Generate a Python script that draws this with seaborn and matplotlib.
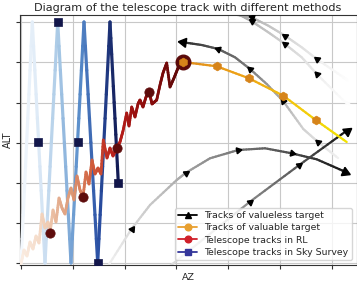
import numpy as np
import matplotlib
matplotlib.use("Agg")
import matplotlib.pyplot as plt
from matplotlib.collections import LineCollection
from matplotlib.colors import LinearSegmentedColormap
from matplotlib.lines import Line2D
import seaborn as sns

# --------------------------------------------
# DATA (AZ / ALT in plot units)
# --------------------------------------------

# telescope tracks in sky survey (zig-zag sweep)
sky_az = [0, 11.3, 24, 36.7, 50, 63, 76.7, 89, 97.3]
sky_alt = [0, 241, 0, 241, 0, 241, 0, 241, 80.3]
sky_mark_az = [17.3, 36.7, 57.3, 76.7, 97.3]
sky_mark_alt = [121, 241, 121, 0, 80.3]

# telescope tracks in RL
rl_az = [0, 3, 6, 9, 12, 15, 18, 21, 24, 27, 29, 32, 35, 38, 41, 44, 47, 50,
         53, 56, 59, 62, 65, 68, 71, 74, 77, 80, 82.3, 86, 89, 92, 95.7, 99,
         102, 105.7, 108, 110.7, 114, 117, 119, 122, 125, 128.3, 131, 135.7,
         139, 142, 145.7, 149, 153, 157, 162]
rl_alt = [-1, 13, 7, 21, 14, 27, 20, 49, 35, 41, 30, 53, 41, 65, 55, 49, 65, 75,
          63, 87, 73, 66, 91, 79, 103, 89, 95, 89, 123, 105, 115, 107, 115, 121,
          132, 150, 137, 156, 146, 159, 163, 156, 166, 170.7, 159, 163,
          178, 190, 200, 176, 185, 195, 201]
rl_mark_az = [29, 62, 95.7, 128.3]
rl_mark_alt = [30, 66, 115, 170.7]
target_az, target_alt = 162, 201

# tracks of valuable target
val_az = [162, 195.7, 228, 262.3, 294.7, 325.7]
val_alt = [201, 196.7, 184.7, 167.3, 143, 121]

# tracks of valueless targets (listed in time order)
track_a_az = [317, 297, 282.3, 262.3, 245.7, 229, 214, 197.3, 180.7, 162.3]
track_a_alt = [105, 121, 134, 161.7, 179, 194, 205.7, 214, 218, 220.7]
track_a_marks = [1, 3, 5, 7]

track_b1_az = [329, 322, 295.7, 280.7, 264, 247.3, 230.7, 210.7, 194]
track_b1_alt = [181, 186, 204, 215.7, 227.3, 237.3, 245.7, 249, 255]
track_b1_marks = [2, 4, 6]

track_b2_az = [331, 324, 295.7, 280.7, 264, 247.3, 230.7, 217, 201]
track_b2_alt = [157, 161, 189, 205.7, 219, 230.7, 241.7, 249, 256]
track_b2_marks = [2, 4, 6]

track_c_az = [87, 110.7, 129, 155.7, 165, 189, 217.3, 244, 270.7, 295.7, 324]
track_c_alt = [-3, 34.3, 58, 83, 90.3, 104.7, 113, 114.7, 109.7, 103.7, 91.3]
track_c_marks = [1, 4, 6, 8]

track_d_az = [144, 229, 278.3, 325.7]
track_d_alt = [-7, 61.3, 98, 132.3]
track_d_marks = [1, 2]

# --------------------------------------------
# STYLE
# --------------------------------------------
sns.set_style("ticks")
plt.rcParams['font.family'] = ['DejaVu Sans']

blues = LinearSegmentedColormap.from_list(
    "sky", ["#f4f8fd", "#dce9f6", "#a9c9e6", "#5b8fcb", "#2a4fa3", "#121a52"])
reds = LinearSegmentedColormap.from_list(
    "rl", ["#fbeee4", "#f0cdb4", "#dd9a78", "#d2603e", "#b81e1a", "#8e0c0c", "#5e0808"])
oranges = LinearSegmentedColormap.from_list(
    "val", ["#e08d1c", "#eea316", "#f3c80c", "#f2e400"])
greys = plt.get_cmap("Greys")


def gradient_line(ax, x, y, cmap, lw, z, c0=0.0, c1=1.0, sub=10):
    x = np.asarray(x, float)
    y = np.asarray(y, float)
    t = np.linspace(0, 1, sub + 1)[1:]
    px, py = [x[0]], [y[0]]
    for i in range(len(x) - 1):
        px.extend(x[i] + (x[i + 1] - x[i]) * t)
        py.extend(y[i] + (y[i + 1] - y[i]) * t)
    px, py = np.array(px), np.array(py)
    pts = np.column_stack([px, py]).reshape(-1, 1, 2)
    segs = np.concatenate([pts[:-1], pts[1:]], axis=1)
    d = np.r_[0, np.cumsum(np.hypot(np.diff(px), np.diff(py)))]
    s = (d[:-1] + d[1:]) / 2 / d[-1]
    lc = LineCollection(segs, colors=cmap(c0 + (c1 - c0) * s), linewidths=lw,
                        capstyle='round', joinstyle='round', zorder=z)
    ax.add_collection(lc)


def triangles(ax, x, y, idx, size, z):
    for i in idx:
        j0, j1 = max(i - 1, 0), min(i + 1, len(x) - 1)
        ang = np.degrees(np.arctan2(y[j1] - y[j0], x[j1] - x[j0]))
        ax.plot(x[i], y[i], marker=(3, 0, ang - 90), ms=size, color='black',
                ls='none', zorder=z)


fig = plt.figure(figsize=(3.57, 2.84), dpi=100)
ax = fig.add_axes([19.5 / 357, 1 - 265 / 284, (356.5 - 19.5) / 357, (265 - 14.7) / 284])

# valueless targets
for tx, ty, mk, c0, c1 in [
        (track_a_az, track_a_alt, track_a_marks, 0.12, 0.85),
        (track_b1_az, track_b1_alt, track_b1_marks, 0.0, 0.55),
        (track_b2_az, track_b2_alt, track_b2_marks, 0.0, 0.5),
        (track_c_az, track_c_alt, track_c_marks, 0.12, 0.92),
        (track_d_az, track_d_alt, track_d_marks, 0.2, 0.92)]:
    gradient_line(ax, tx, ty, greys, 1.6, 2, c0, c1)
    triangles(ax, tx, ty, mk, 5, 3)
for tx, ty in [(track_a_az, track_a_alt), (track_c_az, track_c_alt),
               (track_d_az, track_d_alt)]:
    triangles(ax, tx, ty, [len(tx) - 1], 7.5, 3)

# sky survey
gradient_line(ax, sky_az, sky_alt, blues, 2.3, 4)
sns.scatterplot(x=sky_mark_az, y=sky_mark_alt, marker='s', s=36, color='#12164a',
                edgecolor='#12164a', linewidth=0.5, zorder=6, ax=ax)

# RL
gradient_line(ax, rl_az, rl_alt, reds, 2.0, 5)
sns.scatterplot(x=rl_mark_az, y=rl_mark_alt, marker='o', s=45, color='#5e0c0c',
                edgecolor='#5e0c0c', linewidth=0.5, zorder=7, ax=ax)
ax.plot(target_az, target_alt, 'o', ms=10.5, color='#5a0a0a', zorder=8)

# valuable target
gradient_line(ax, val_az, val_alt, oranges, 1.6, 7)
sns.scatterplot(x=val_az[:-1], y=val_alt[:-1], marker='h', s=40, color='#d6841a',
                edgecolor='#d6841a', linewidth=0.5, zorder=9, ax=ax)

ax.set_xlim(-1.5, 335.5)
ax.set_ylim(-2, 248.3)
ax.set_xticks(np.arange(7) * 51.83)
ax.set_yticks(np.arange(7) * 40.12)
ax.set_xticklabels([])
ax.set_yticklabels([])
ax.grid(True, color='#c8c8c8', lw=0.8)
ax.set_axisbelow(True)
ax.tick_params(length=3, width=0.8, color='#333333', pad=0)
for sp in ax.spines.values():
    sp.set_color('#333333')
    sp.set_linewidth(0.8)

ax.set_title("Diagram of the telescope track with different methods", fontsize=8.1, pad=3)
ax.set_xlabel("AZ", fontsize=6.8, labelpad=2.5)
ax.set_ylabel("ALT", fontsize=6.9, labelpad=2)

handles = [
    Line2D([], [], color='black', marker='^', ms=4.8, lw=1.3),
    Line2D([], [], color='#e8a030', marker='o', ms=4.8, lw=1.3),
    Line2D([], [], color='#d0202a', marker='o', ms=4.8, lw=1.3),
    Line2D([], [], color='#34369a', marker='s', ms=4.8, lw=1.3),
]
labels = ["Tracks of valueless target", "Tracks of valuable target",
          "Telescope tracks in RL", "Telescope tracks in Sky Survey"]
ax.legend(handles, labels, loc='lower right', fontsize=6.75, framealpha=0.8,
          handlelength=2, borderaxespad=0.5, labelspacing=0.35, borderpad=0.35)

fig.savefig("out.png", dpi=100)
